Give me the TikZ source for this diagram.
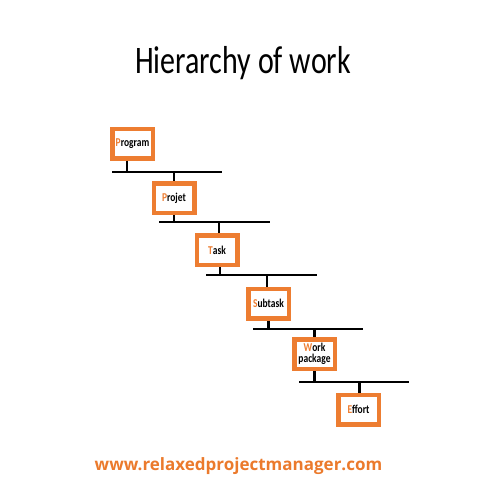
\documentclass[tikz,border=0pt]{standalone}
\usepackage{fontspec}
\setmainfont{Carlito}
\newfontfamily\urlfont{Open Sans}
\definecolor{boxorange}{HTML}{ED7D31}
\definecolor{urlorange}{HTML}{EB7A2C}
\begin{document}
\begin{tikzpicture}[x=1pt,y=-1pt,
  wbox/.style={draw=boxorange,line width=4.5pt,fill=white,minimum width=40.5pt,minimum height=29.5pt,inner sep=1pt,align=center,font=\bfseries\fontsize{10}{10.5}\selectfont},
  bar/.style={line width=2.6pt,black},
  stem/.style={line width=2.4pt,black}]
\useasboundingbox (0,0) rectangle (480,480);
\newcommand{\lbl}[1]{\scalebox{0.95}[1.2]{#1}}
\newcommand{\fl}[1]{\textcolor{boxorange}{#1}}
\node[font=\fontsize{30}{32}\selectfont, anchor=base] (title) at (243,73) {\scalebox{1}[1.3]{Hierarchy of work}};
\node[wbox] (b1) at (132.5,143.5) {\lbl{\fl{P}rogram}};
\node[wbox] (b2) at (174,198) {\lbl{\fl{P}rojet}};
\node[wbox] (b3) at (217,250) {\lbl{\fl{T}ask}};
\node[wbox] (b4) at (268.5,303.5) {\lbl{\fl{S}ubtask}};
\node[wbox,align=center] (b5) at (314.5,354) {\lbl{\fl{W}ork}\\[1pt]\lbl{package}};
\node[wbox] (b6) at (358.5,409.5) {\lbl{\fl{E}ffort}};
% bars
\coordinate (l1) at (112,172); \coordinate (r1) at (222,172);
\coordinate (l2) at (159,222); \coordinate (r2) at (270,222);
\coordinate (l3) at (206,275); \coordinate (r3) at (317,275);
\coordinate (l4) at (253,329); \coordinate (r4) at (363,329);
\coordinate (l5) at (299,382); \coordinate (r5) at (409,382);
\foreach \i in {1,...,5} {\draw[bar] (l\i) -- (r\i);}
\draw[stem] (b1.south -| 127,0) -- (127,172);
\draw[stem] (174,172) -- (b2.north);
\draw[stem] (b2.south) -- (174,222);
\draw[stem] (219,222) -- (b3.north -| 219,0);
\draw[stem] (b3.south -| 220,0) -- (220,275);
\draw[stem] (267,275) -- (b4.north -| 267,0);
\draw[stem] (b4.south) -- (268.5,329);
\draw[stem] (314.5,329) -- (b5.north);
\draw[stem] (b5.south) -- (314.5,382);
\draw[stem] (359.5,382) -- (b6.north -| 359.5,0);
\node[font=\urlfont\bfseries\fontsize{17}{18}\selectfont, text=urlorange, anchor=base] (url) at (238.5,470) {www.relaxedprojectmanager.com};
\end{tikzpicture}
\end{document}
